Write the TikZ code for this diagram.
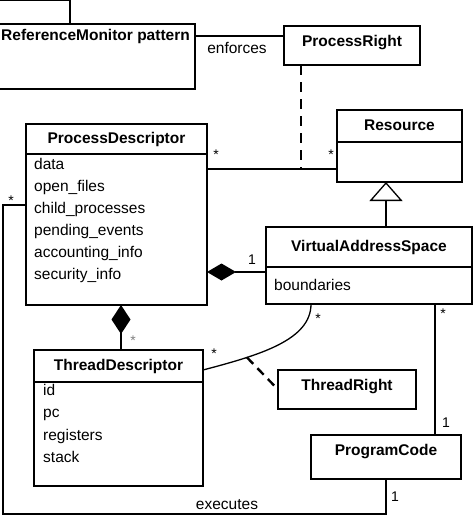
\documentclass[tikz,border=0pt]{standalone}
\usepackage{fontspec}
\setmainfont{Liberation Sans}
\usetikzlibrary{arrows.meta,positioning}

\begin{document}
\begin{tikzpicture}[
        x=1pt, y=-1pt,
        font=\fontsize{15.5}{18}\selectfont,
        umlbox/.style={draw, line width=1.4pt, inner sep=0pt, outer sep=0pt, anchor=north west},
        classname/.style={font=\fontsize{15.5}{18}\selectfont\bfseries, text height=11pt, text depth=3pt, inner sep=0pt},
        attrlist/.style={anchor=north west, align=left, inner sep=0pt, font=\fontsize{15.5}{22}\selectfont},
        mult/.style={font=\fontsize{14}{16}\selectfont, inner sep=0pt},
        assocline/.style={line width=1.3pt},
        depline/.style={line width=2.6pt, dash pattern=on 10pt off 7pt},
    ]
    \useasboundingbox (0,0) rectangle (474,517);
    \clip (0,0) rectangle (474,517);

    % Pattern boxes at the top
    \node[umlbox, minimum width=80pt, minimum height=24pt] (upper) at (-10,0) {};
    \node[umlbox, minimum width=200pt, minimum height=65pt] (refmon) at (-5,24) {};
    \node[classname, anchor=west] (refmontitle) at (1,36) {ReferenceMonitor pattern};
    \node[umlbox, minimum width=136pt, minimum height=39pt] (procright) at (284,26) {};
    \node[classname, below=9.5pt of procright.north] (procrighttitle) {ProcessRight};

    % Classes
    \node[umlbox, classname, minimum width=181pt, minimum height=30pt] (pdtitle) at (26,124) {ProcessDescriptor};
    \node[umlbox, minimum width=181pt, minimum height=151pt, below=0pt of pdtitle] (procdesc) {};
    \node[attrlist] (pdattrs) at (34,158) {data\\open\_files\\child\_processes\\pending\_events\\accounting\_info\\security\_info};

    \node[umlbox, classname, minimum width=125pt, minimum height=32pt] (restitle) at (337,110) {Resource};
    \node[umlbox, minimum width=125pt, minimum height=40pt, below=0pt of restitle] (resource) {};

    \node[umlbox, classname, minimum width=206pt, minimum height=40pt] (vastitle) at (266,227) {VirtualAddressSpace};
    \node[umlbox, minimum width=206pt, minimum height=37pt, below=0pt of vastitle] (vas) {};
    \node[attrlist] (vasattrs) at (274,279) {boundaries};

    \node[umlbox, classname, minimum width=169pt, minimum height=32pt] (tdtitle) at (34,350) {ThreadDescriptor};
    \node[umlbox, minimum width=169pt, minimum height=104pt, below=0pt of tdtitle] (threaddesc) {};
    \node[attrlist, font=\fontsize{15.5}{22.3}\selectfont] (tdattrs) at (43,384) {id\\pc\\registers\\stack};

    \node[umlbox, minimum width=138pt, minimum height=39pt] (threadright) at (278,370) {};
    \node[classname, below=9.5pt of threadright.north] (threadrighttitle) {ThreadRight};

    \node[umlbox, minimum width=150pt, minimum height=44pt] (progcode) at (311,435) {};
    \node[classname, below=9.5pt of progcode.north] (progcodetitle) {ProgramCode};

    % Helper points
    \coordinate (assoc) at (301,169);
    \coordinate (gen) at (386,0);
    \coordinate (comp1) at (0,272);
    \coordinate (comp2) at (121,0);
    \coordinate (vascurve) at (311,0);
    \coordinate (code) at (435,0);
    \coordinate (exdown) at (3,514);
    \coordinate (exup) at (3,205);

    % Connectors
    \draw[assocline] (refmon.east |- refmontitle) -- (procright.west |- refmontitle);
    \node (enforceslbl) at (237,48) {enforces};

    \draw[assocline] (procdesc.east |- assoc) -- (resource.west |- assoc);
    \draw[depline] (procright.south -| assoc) -- (assoc);
    \node[mult] (m1) at (216,155) {*};
    \node[mult] (m2) at (331,155) {*};

    \draw[assocline, -{Triangle[open, length=19pt, width=33pt]}] (vastitle.north -| gen) -- (resource.south -| gen);

    \draw[assocline, {Diamond[length=29pt, width=17pt]}-] (procdesc.east |- comp1) -- (vas.west |- comp1);
    \node[mult] (m3) at (252,260) {1};

    \draw[assocline, {Diamond[length=29pt, width=19pt]}-] (procdesc.south -| comp2) -- (tdtitle.north -| comp2);
    \node[mult, text=gray] (m4) at (133,341) {*};

    \draw[assocline] ([yshift=-4pt]tdtitle.east) .. controls (260,355) and (311,340) .. (vas.south -| vascurve)
        coordinate[pos=0.27] (depfoot);
    \node[mult] (m5) at (214,354) {*};
    \node[mult] (m6) at (318,319) {*};
    \draw[depline, line width=2.4pt, dash pattern=on 9pt off 6pt] (depfoot) -- (threadright.west);

    \draw[assocline] (vas.south -| code) -- (progcode.north -| code);
    \node[mult] (m7) at (443,314) {*};
    \node[mult] (m8) at (446,423) {1};

    \draw[assocline] (progcode.south) |- (exdown) -- (exup) -- (procdesc.west |- exup);
    \node (executeslbl) at (227,505) {executes};
    \node[mult] (m9) at (395,497) {1};
    \node[mult] (m10) at (11,201) {*};

\end{tikzpicture}
\end{document}
